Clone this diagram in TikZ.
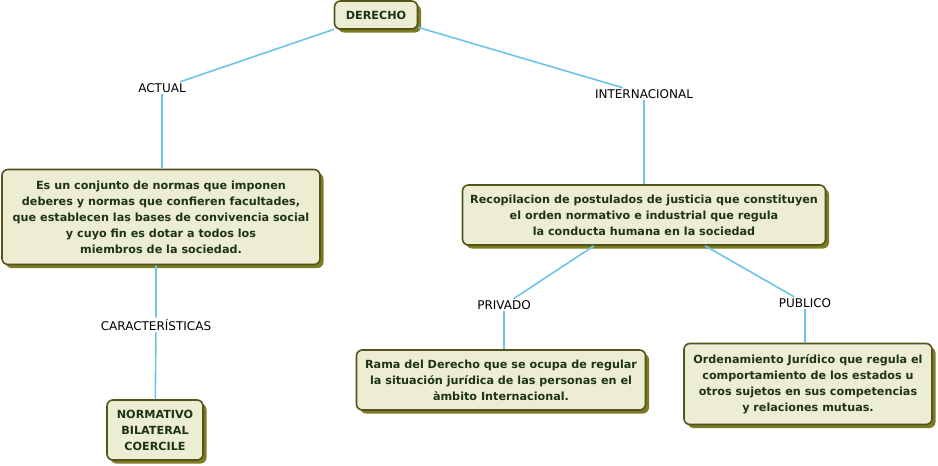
\documentclass[tikz,border=0pt]{standalone}
\usepackage{fontspec}
\setmainfont{DejaVu Sans}
\usetikzlibrary{shadows}
\definecolor{edge}{HTML}{6EC3E6}
\definecolor{frame}{HTML}{55531C}
\definecolor{shade}{HTML}{7D7B22}
\definecolor{paper}{HTML}{EDEDD4}
\definecolor{ink}{HTML}{1C3414}

\begin{document}
\begin{tikzpicture}[x=1pt,y=-1pt,box/.style={draw=frame,line width=1.6pt,fill=paper,rounded corners=6pt,align=center,text=ink,font=\fontsize{11.2}{16}\selectfont\bfseries,inner sep=2pt,drop shadow={shadow xshift=3.5pt,shadow yshift=-3.5pt,fill=shade,opacity=1}},lbl/.style={font=\fontsize{12}{14}\selectfont,inner sep=1.5pt,fill=white},link/.style={edge,line width=1.6pt}]
\useasboundingbox (0,0) rectangle (938,466);
\node[box,minimum width=83pt,minimum height=28pt] (der) at (376,15) {DERECHO};
\node[lbl] (act) at (162,88) {ACTUAL};
\node[lbl] (int) at (644,94) {INTERNACIONAL};
\node[box,minimum width=318pt,minimum height=95pt] (def) at (161,217) {Es un conjunto de normas que imponen\\deberes y normas que confieren facultades,\\que establecen las bases de convivencia social\\y cuyo fin es dotar a todos los\\miembros de la sociedad.};
\node[box,minimum width=363pt,minimum height=60pt] (rec) at (644,215) {Recopilacion de postulados de justicia que constituyen\\el orden normativo e industrial que regula\\la conducta humana en la sociedad};
\node[lbl] (car) at (156,325) {CARACTERÍSTICAS};
\node[lbl] (pri) at (504,305) {PRIVADO};
\node[lbl] (pub) at (805,303) {PUBLICO};
\node[box,minimum width=289pt,minimum height=60pt] (ram) at (501,380) {Rama del Derecho que se ocupa de regular\\la situación jurídica de las personas en el\\àmbito Internacional.};
\node[box,minimum width=248pt,minimum height=81pt] (ord) at (808,384) {Ordenamiento Jurídico que regula el\\comportamiento de los estados u\\otros sujetos en sus competencias\\y relaciones mutuas.};
\node[box,minimum width=96pt,minimum height=60pt] (nor) at (155,430) {NORMATIVO\\BILATERAL\\COERCILE};
\draw[link] (der) -- (act);
\draw[link] (act) -- (act |- def.north);
\draw[link] (der) -- (int);
\draw[link] (int) -- (int |- rec.north);
\draw[link] (def.south -| car) -- (car) -- (nor);
\draw[link] (rec.south -| 594,0) -- (pri);
\draw[link] (pri) -- (pri |- ram.north);
\draw[link] (rec.south -| 705,0) -- (pub);
\draw[link] (pub) -- (pub |- ord.north);
\end{tikzpicture}
\end{document}
